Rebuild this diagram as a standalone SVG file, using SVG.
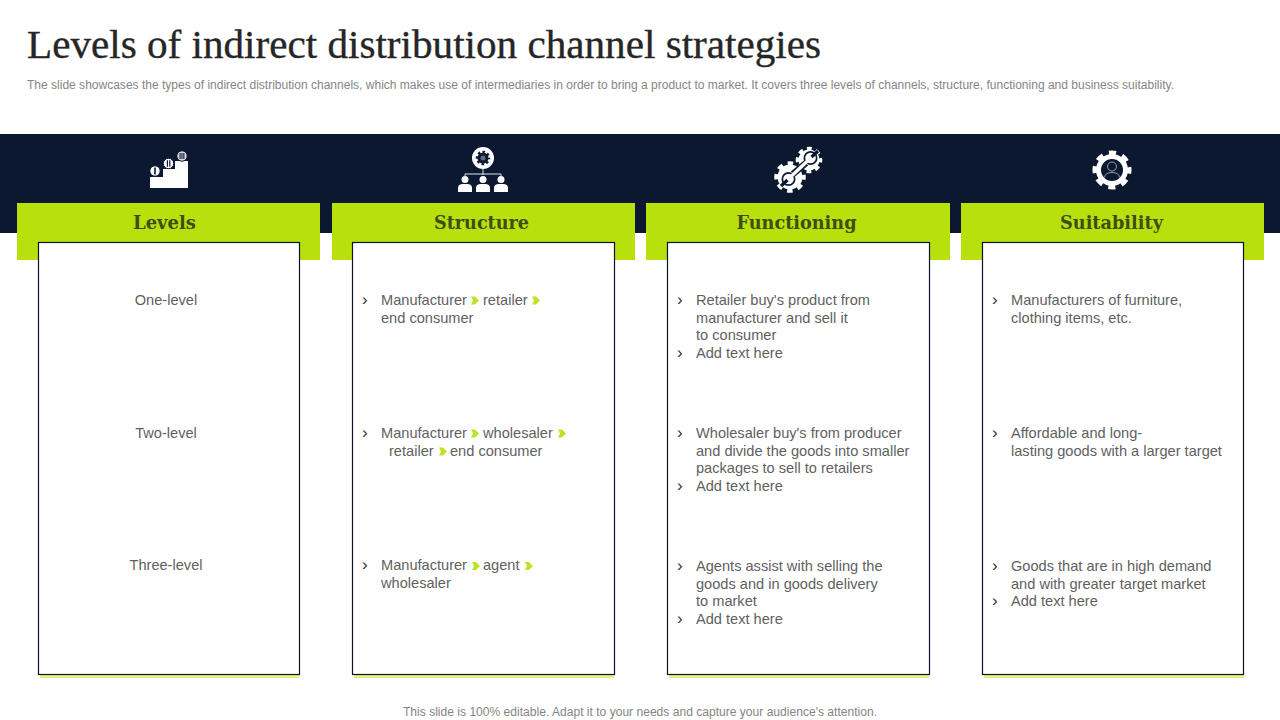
<svg xmlns="http://www.w3.org/2000/svg" xmlns:xlink="http://www.w3.org/1999/xlink" width="1280" height="720" viewBox="0 0 1280 720">
<style>
.t{font-family:"Liberation Serif","DejaVu Serif",serif;font-size:40px;fill:#262626;stroke:#262626;stroke-width:.35}
.sub{font-family:"Liberation Sans",Arial,sans-serif;font-size:12px;fill:#858585}
.h{font-family:"DejaVu Serif","Liberation Serif",serif;font-weight:700;font-size:18px;fill:#3f4c12;text-anchor:middle}
.b{font-family:"Liberation Sans",Arial,sans-serif;font-size:14.6px;fill:#5f5f5f}
.m{text-anchor:middle}
.d{fill:#333;font-size:17px}
.band{fill:#b7e00c}
.card{fill:#fff;stroke:#0a1428;stroke-width:1.2}
.under{fill:#e4f27a}
.ic{fill:#fff}
.bg{fill:#0b1830}
.ar{fill:#bde328}
</style>
<defs>
<path id="chev" class="ar" d="M0 -4L4 -4L8 0L4 4L0 4L2 0Z"/>
</defs>
<rect width="1280" height="720" fill="#fff"/>
<text class="t" x="27" y="58" textLength="794" lengthAdjust="spacingAndGlyphs">Levels of indirect distribution channel strategies</text>
<text class="sub" x="27" y="89" textLength="1147" lengthAdjust="spacingAndGlyphs">The slide showcases the types of indirect distribution channels, which makes use of intermediaries in order to bring a product to market. It covers three levels of channels, structure, functioning and business suitability.</text>
<rect x="0" y="134" width="1280" height="99" fill="#0b1830"/>

<g id="icon-levels">
<path class="ic" d="M150 188V177H163V169H175V161H188V188Z"/>
<circle class="ic" cx="155" cy="171" r="5.200" stroke="#0b1830" stroke-width="1"/>
<circle class="ic" cx="168.500" cy="163.500" r="5.200" stroke="#0b1830" stroke-width="1"/>
<circle fill="#d5d9e0" cx="182" cy="156" r="5.200" stroke="#0b1830" stroke-width="1"/>
<path class="bg" d="M154.200 167.500h1.600v7h-1.600zM166.800 160.300h1.200v6.500h-1.200zM169.200 160.300h1.200v6.500h-1.200zM179.500 153h1.100v6h-1.100zM181.400 153h1.100v6h-1.100zM183.300 153h1.100v6h-1.100z"/>
</g>
<g id="icon-structure">
<circle class="ic" cx="483" cy="158" r="11"/>
<circle class="bg" cx="483" cy="158" r="5.500"/>
<circle fill="none" stroke="#0b1830" stroke-width="2.500" stroke-dasharray="2.400 2.312" stroke-dashoffset="1.200" cx="483" cy="158" r="6"/>
<circle fill="#5f6a7d" cx="483" cy="158" r="2.500"/>
<path fill="none" stroke="#dfe3ea" stroke-width="1" d="M483 169V175M465 176V174H501V176"/>
<g class="ic">
<circle cx="465" cy="179.500" r="3.500"/><path d="M458 192V188Q458 184 463 184H467Q472 184 472 188V192Z"/>
<circle cx="483" cy="179.500" r="3.500"/><path d="M476 192V188Q476 184 481 184H485Q490 184 490 188V192Z"/>
<circle cx="501" cy="179.500" r="3.500"/><path d="M494 192V188Q494 184 499 184H503Q508 184 508 188V192Z"/>
</g>
</g>
<g id="icon-functioning">
<circle class="ic" cx="790" cy="177" r="12.500"/>
<circle fill="none" stroke="#fff" stroke-width="4" stroke-dasharray="5.500 5.281" stroke-dashoffset="2.750" cx="790" cy="177" r="13.730"/>
<circle class="ic" cx="809" cy="160" r="10.500"/>
<circle fill="none" stroke="#fff" stroke-width="3.500" stroke-dasharray="4.800 4.230" stroke-dashoffset="2.400" cx="809" cy="160" r="11.500"/>
<path fill="none" stroke="#0b1830" stroke-width="6.500" d="M793 174L806 163"/>
<circle class="bg" cx="788.500" cy="179" r="7"/><circle class="bg" cx="810.500" cy="158" r="7"/>
<circle class="ic" cx="788.500" cy="179" r="5.300"/><circle class="ic" cx="810.500" cy="158" r="5.300"/>
<path fill="none" stroke="#fff" stroke-width="3.500" d="M792 175.500L807 161.500"/>
<path fill="none" stroke="#0b1830" stroke-width="3.200" d="M787.500 180L781 186M811.500 157L818 151"/>
</g>
<g id="icon-suitability">
<circle class="ic" cx="1112" cy="170" r="16"/>
<circle fill="none" stroke="#fff" stroke-width="5" stroke-dasharray="7 6.350" stroke-dashoffset="3.500" cx="1112" cy="170" r="17"/>
<circle class="bg" cx="1112" cy="170" r="11"/>
<circle fill="none" stroke="#b9c3d6" stroke-width="0.800" cx="1112" cy="166.500" r="4.500"/>
<path fill="none" stroke="#b9c3d6" stroke-width="0.800" d="M1104.500 177.500Q1105 172.500 1112 172.500Q1119 172.500 1119.500 177.500"/>
</g>

<g id="connectors"></g>

<g id="col-levels">
<rect class="band" x="17" y="203" width="303" height="57"/>
<rect class="under" x="40" y="675" width="259" height="3"/>
<rect class="card" x="38.500" y="242.500" width="261" height="432"/>
<text class="h" x="164.500" y="229" textLength="63" lengthAdjust="spacingAndGlyphs">Levels</text>
<text class="b m" x="166" y="305">One-level</text>
<text class="b m" x="166" y="438">Two-level</text>
<text class="b m" x="166" y="570">Three-level</text>
</g>

<g id="col-structure">
<rect class="band" x="332" y="203" width="303" height="57"/>
<rect class="under" x="354" y="675" width="260" height="3"/>
<rect class="card" x="352.500" y="242.500" width="262" height="432"/>
<text class="h" x="481.500" y="229" textLength="95" lengthAdjust="spacingAndGlyphs">Structure</text>
<text class="b d" x="362" y="305">›</text>
<text class="b" x="381" y="305">Manufacturer</text><use xlink:href="#chev" x="471" y="300.500"/><text class="b" x="483" y="305">retailer</text><use xlink:href="#chev" x="532" y="300.500"/>
<text class="b" x="381" y="323">end consumer</text>
<text class="b d" x="362" y="438">›</text>
<text class="b" x="381" y="438">Manufacturer</text><use xlink:href="#chev" x="471" y="433.500"/><text class="b" x="483" y="438">wholesaler</text><use xlink:href="#chev" x="558" y="433.500"/>
<text class="b" x="389" y="456">retailer</text><use xlink:href="#chev" x="439" y="451.500"/><text class="b" x="450" y="456">end consumer</text>
<text class="b d" x="362" y="570">›</text>
<text class="b" x="381" y="570">Manufacturer</text><use xlink:href="#chev" x="472" y="566"/><text class="b" x="483" y="570">agent</text><use xlink:href="#chev" x="525" y="566"/>
<text class="b" x="381" y="588">wholesaler</text>
</g>

<g id="col-functioning">
<rect class="band" x="646" y="203" width="304" height="57"/>
<rect class="under" x="669" y="675" width="260" height="3"/>
<rect class="card" x="667.500" y="242.500" width="262" height="432"/>
<text class="h" x="796.500" y="229" textLength="120" lengthAdjust="spacingAndGlyphs">Functioning</text>
<text class="b d" x="677" y="305">›</text>
<text class="b" x="696" y="305">Retailer buy's product from</text>
<text class="b" x="696" y="323">manufacturer and sell it</text>
<text class="b" x="696" y="340">to consumer</text>
<text class="b d" x="677" y="358">›</text>
<text class="b" x="696" y="358">Add text here</text>
<text class="b d" x="677" y="438">›</text>
<text class="b" x="696" y="438">Wholesaler buy's from producer</text>
<text class="b" x="696" y="456">and divide the goods into smaller</text>
<text class="b" x="696" y="473">packages to sell to retailers</text>
<text class="b d" x="677" y="491">›</text>
<text class="b" x="696" y="491">Add text here</text>
<text class="b d" x="677" y="571">›</text>
<text class="b" x="696" y="571">Agents assist with selling the</text>
<text class="b" x="696" y="589">goods and in goods delivery</text>
<text class="b" x="696" y="606">to market</text>
<text class="b d" x="677" y="624">›</text>
<text class="b" x="696" y="624">Add text here</text>
</g>

<g id="col-suitability">
<rect class="band" x="961" y="203" width="303" height="57"/>
<rect class="under" x="984" y="675" width="260" height="3"/>
<rect class="card" x="982.500" y="242.500" width="261" height="432"/>
<text class="h" x="1111.500" y="229" textLength="103" lengthAdjust="spacingAndGlyphs">Suitability</text>
<text class="b d" x="992" y="305">›</text>
<text class="b" x="1011" y="305">Manufacturers of furniture,</text>
<text class="b" x="1011" y="323">clothing items, etc.</text>
<text class="b d" x="992" y="438">›</text>
<text class="b" x="1011" y="438">Affordable and long-</text>
<text class="b" x="1011" y="456">lasting goods with a larger target</text>
<text class="b d" x="992" y="571">›</text>
<text class="b" x="1011" y="571">Goods that are in high demand</text>
<text class="b" x="1011" y="589">and with greater target market</text>
<text class="b d" x="992" y="606">›</text>
<text class="b" x="1011" y="606">Add text here</text>
</g>

<text class="sub m" x="640" y="716" textLength="474" lengthAdjust="spacingAndGlyphs">This slide is 100% editable. Adapt it to your needs and capture your audience's attention.</text>
</svg>
